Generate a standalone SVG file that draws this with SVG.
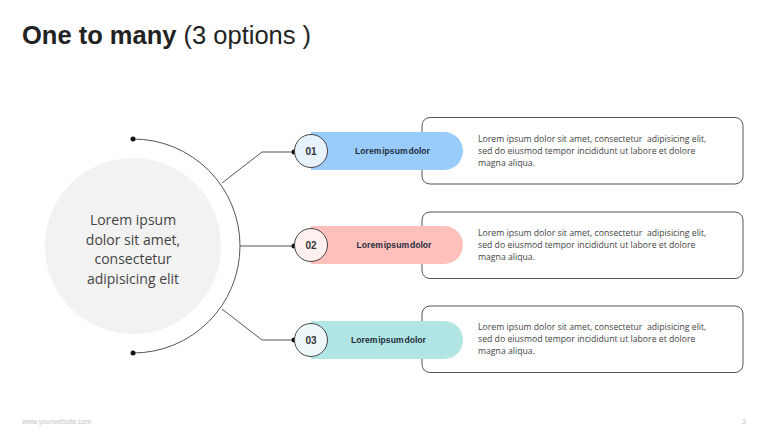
<svg xmlns="http://www.w3.org/2000/svg" width="768" height="432" viewBox="0 0 768 432">
<style>
.title{font-family:"Liberation Sans",Arial,sans-serif;font-size:25.5px;fill:#222}
.ctr{font-family:"Open Sans","Liberation Sans",sans-serif;font-size:14px;fill:#444;text-anchor:middle}
.num{font-family:"Liberation Sans",Arial,sans-serif;font-size:10px;font-weight:bold;fill:#333;text-anchor:middle}
.pl{font-family:"Liberation Sans",Arial,sans-serif;font-size:8.6px;font-weight:bold;fill:#1f2d3d;text-anchor:middle;word-spacing:-1.5px}
.body{font-family:"Open Sans","Liberation Sans",sans-serif;font-size:8.7px;fill:#444;white-space:pre}
.box{fill:#fff;stroke:#555;stroke-width:1}
.nc{stroke:#444;stroke-width:1}
.ln{fill:none;stroke:#555;stroke-width:1}
.foot{font-family:"Liberation Sans",Arial,sans-serif;font-size:7px;fill:#c4c4c4}
</style>
<rect width="768" height="432" fill="#fff"/>
<text x="22" y="44" class="title"><tspan font-weight="bold">One to many</tspan> (3 options )</text>
<g id="center">
<circle cx="133" cy="246" r="88" fill="#f2f2f2"/>
<text class="ctr"><tspan x="133" y="225">Lorem ipsum</tspan><tspan x="133" y="244.5">dolor sit amet,</tspan><tspan x="133" y="264">consectetur</tspan><tspan x="133" y="283.5">adipisicing elit</tspan></text>
</g>
<g id="connectors">
<path class="ln" d="M133,139 A107,107 0 0 1 133,353"/>
<circle cx="133" cy="139" r="2.5" fill="#111"/>
<circle cx="133" cy="353" r="2.5" fill="#111"/>
<polyline class="ln" points="222,183 262,152 294,152"/>
<line class="ln" x1="240" y1="246" x2="294" y2="246"/>
<polyline class="ln" points="222,309 262,340 294,340"/>
<circle cx="294" cy="152" r="2.5" fill="#111"/>
<circle cx="294" cy="246" r="2.5" fill="#111"/>
<circle cx="294" cy="340" r="2.5" fill="#111"/>
</g>
<g id="option1">
<rect class="box" x="422" y="117.5" width="321" height="66.5" rx="8"/>
<path d="M311,132 H444 A19,19 0 0 1 444,170 H311 Z" fill="#99ccfb"/>
<circle class="nc" cx="311" cy="151" r="16.5" fill="#e8f2fc"/>
<text x="311" y="154.5" class="num">01</text>
<text x="392.5" y="154" class="pl">Lorem ipsum dolor</text>
<text class="body"><tspan x="478" y="142">Lorem ipsum dolor sit amet, consectetur  adipisicing elit,</tspan><tspan x="478" y="154">sed do eiusmod tempor incididunt ut labore et dolore</tspan><tspan x="478" y="166">magna aliqua.</tspan></text>
</g>
<g id="option2">
<rect class="box" x="422" y="212" width="321" height="66.5" rx="8"/>
<path d="M311,226 H444 A19,19 0 0 1 444,264 H311 Z" fill="#ffbfba"/>
<circle class="nc" cx="311" cy="245" r="16.5" fill="#fdf0ef"/>
<text x="311" y="248.5" class="num">02</text>
<text x="394" y="248" class="pl">Lorem ipsum dolor</text>
<text class="body"><tspan x="478" y="236">Lorem ipsum dolor sit amet, consectetur  adipisicing elit,</tspan><tspan x="478" y="248">sed do eiusmod tempor incididunt ut labore et dolore</tspan><tspan x="478" y="260">magna aliqua.</tspan></text>
</g>
<g id="option3">
<rect class="box" x="422" y="306" width="321" height="66.5" rx="8"/>
<path d="M311,321 H444 A19,19 0 0 1 444,359 H311 Z" fill="#b2e6e4"/>
<circle class="nc" cx="311" cy="340" r="16.5" fill="#eef8f8"/>
<text x="311" y="343.5" class="num">03</text>
<text x="388.5" y="343" class="pl">Lorem ipsum dolor</text>
<text class="body"><tspan x="478" y="330">Lorem ipsum dolor sit amet, consectetur  adipisicing elit,</tspan><tspan x="478" y="342">sed do eiusmod tempor incididunt ut labore et dolore</tspan><tspan x="478" y="354">magna aliqua.</tspan></text>
</g>
<text x="22" y="424" class="foot">www.yourwebsite.com</text>
<text x="746" y="424" class="foot" text-anchor="end">3</text>
</svg>
